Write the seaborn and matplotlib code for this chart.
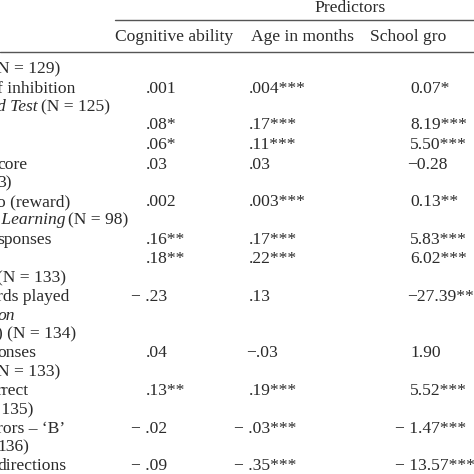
import matplotlib
matplotlib.use("Agg")
import matplotlib.pyplot as plt
import seaborn as sns

sns.set_theme(style="white")
plt.rcParams["font.family"] = ["Liberation Serif", "DejaVu Serif"]

# table content (left part of the row labels is cropped in the reference)
row_labels = ["N = 129)", "f inhibition", "d Test (N = 125)", "", "", "core", "3)",
              "o (reward)", " Learning (N = 98)", "sponses", "", "(N = 133)",
              "rds played", "on", ") (N = 134)", "onses", "N = 133)", "rrect",
              " 135)", "rors – ‘B’", "136)", "directions"]
italic_rows = [13]
italic_prefix = {2: "d Test", 8: " Learning"}
cognitive = ["", ".001", "", ".08*", ".06*", ".03", "", ".002", "", ".16**", ".18**", "",
             "− .23", "", "", ".04", "", ".13**", "", "− .02", "", "− .09"]
age_months = ["", ".004***", "", ".17***", ".11***", ".03", "", ".003***", "", ".17***", ".22***", "",
              ".13", "", "", "−.03", "", ".19***", "", "− .03***", "", "− .35***"]
school = ["", "0.07*", "", "8.19***", "5.50***", "−0.28", "", "0.13**", "", "5.83***", "6.02***", "",
          "−27.39***", "", "", "1.90", "", "5.52***", "", "− 1.47***", "", "− 13.57***"]
col_headers = ["Cognitive ability", "Age in months", "School gro"]

row_y = [69, 89, 107, 125, 145, 165, 183, 202, 220, 240, 259, 278, 297, 316, 334,
         353, 372, 391, 410, 429, 447, 466]
col_x = [146, 249, 410]
head_x = [115, 251, 370]

fig = plt.figure(figsize=(4.74, 4.74), dpi=100)
ax = fig.add_axes([0, 0, 1, 1])
ax.set_xlim(0, 474)
ax.set_ylim(474, 0)
ax.axis("off")

c = "#2b2b2b"
fs = 12.6
ax.text(350, 8, "Predictors", fontsize=fs, color=c, ha="center", va="center")
ax.plot([115, 474], [20, 20], color="#555555", lw=1)
for x, h in zip(head_x, col_headers):
    ax.text(x, 37, h, fontsize=fs, color=c, ha="left", va="center")
ax.plot([0, 474], [52, 52], color="#555555", lw=1)

for i, y in enumerate(row_y):
    lab = row_labels[i]
    if i in italic_prefix:
        pre = italic_prefix[i]
        t = ax.text(-3, y, pre, fontsize=fs, color=c, ha="left", va="center", style="italic")
        fig.canvas.draw()
        bb = t.get_window_extent().transformed(ax.transData.inverted())
        ax.text(bb.x1 + 3, y, lab[len(pre):].strip(), fontsize=fs, color=c, ha="left", va="center")
    else:
        ax.text(-3, y, lab, fontsize=fs, color=c, ha="left", va="center",
                style="italic" if i in italic_rows else "normal")
    for x, col in zip(col_x, [cognitive, age_months, school]):
        v = col[i]
        if not v:
            continue
        dx = -15 if v.startswith("− ") else (-3 if v.startswith("−") else 0)
        ax.text(x + dx, y, v, fontsize=fs, color=c, ha="left", va="center")

fig.savefig("out.png", dpi=100)
